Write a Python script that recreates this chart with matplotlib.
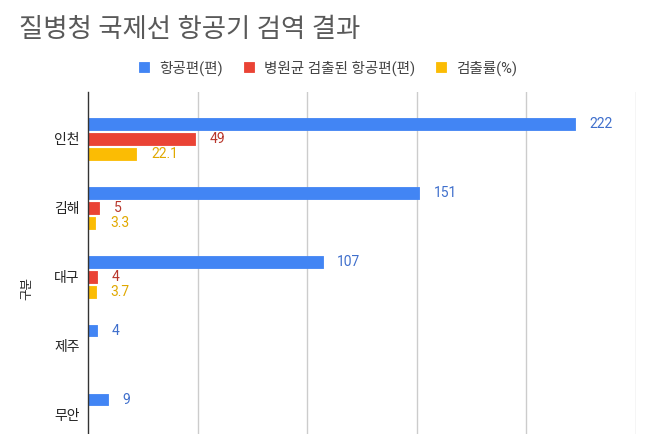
import numpy as np
import matplotlib
matplotlib.use("Agg")
import matplotlib.pyplot as plt

categories = ["인천", "김해", "대구", "제주", "무안"]
flights = [222, 151, 107, 4, 9]
detected = [49, 5, 4, np.nan, np.nan]
rate = [22.1, 3.3, 3.7, np.nan, np.nan]
series_names = ["항공편(편)", "병원균 검출된 항공편(편)", "검출률(%)"]
title = "질병청 국제선 항공기 검역 결과"
y_label = "구분"

colors = ["#4285F4", "#EA4335", "#FBBC04"]
text_colors = ["#3F6FCC", "#B8372C", "#E0A800"]

plt.rcParams["font.family"] = ["Roboto", "Noto Sans CJK KR", "DejaVu Sans"]

W, H = 658, 434
fig = plt.figure(figsize=(W / 100, H / 100), dpi=100)
ax = fig.add_axes([88 / W, 0, (636 - 88) / W, 1 - 92 / H])

y = np.arange(len(categories))
off = 15 / 69
h = 11.5 / 69
series = [flights, detected, rate]
for i, (vals, c, tc) in enumerate(zip(series, colors, text_colors)):
    pos = y + (i - 1) * off
    ax.barh(pos, vals, height=h, color=c, edgecolor=c, linewidth=0.6,
            joinstyle="round", label=series_names[i], zorder=3)
    for p, v in zip(pos, vals):
        if not np.isnan(v):
            ax.annotate(f"{v:g}", xy=(v, p), xytext=(10.5, 0),
                        textcoords="offset points", va="center", ha="left",
                        color=tc, fontsize=10)

ax.set_xlim(0, 250)
ax.set_ylim(4.28, -0.68)
ax.set_xticks([50, 100, 150, 200, 250])
ax.xaxis.grid(True, color="#cccccc", linewidth=1.0, zorder=0)
ax.set_axisbelow(True)
ax.tick_params(axis="x", length=0, labelbottom=False)
ax.set_yticks(y)
ax.set_yticklabels(categories, fontsize=10, color="#222222")
ax.tick_params(axis="y", length=0, pad=6)
for s in ["top", "right", "bottom"]:
    ax.spines[s].set_visible(False)
ax.spines["left"].set_color("#333333")
ax.spines["left"].set_linewidth(1.0)
ax.spines["left"].set_zorder(4)

fig.text(27 / W, 1 - 288 / H, y_label, rotation=90, ha="center", va="center",
         fontsize=9, color="#222222")

fig.text(19 / W, 1 - 30 / H, title, ha="left", va="center", fontsize=19,
         color="#595959")

handles, labels = ax.get_legend_handles_labels()
leg = fig.legend(handles, labels, loc="center", bbox_to_anchor=(328 / W, 1 - 68 / H),
                 ncol=3, frameon=False, fontsize=10.5, handlelength=0.7,
                 handleheight=0.72, handletextpad=0.7, columnspacing=1.4,
                 labelcolor="#444444")

fig.savefig("out.png", dpi=100, facecolor="white")
